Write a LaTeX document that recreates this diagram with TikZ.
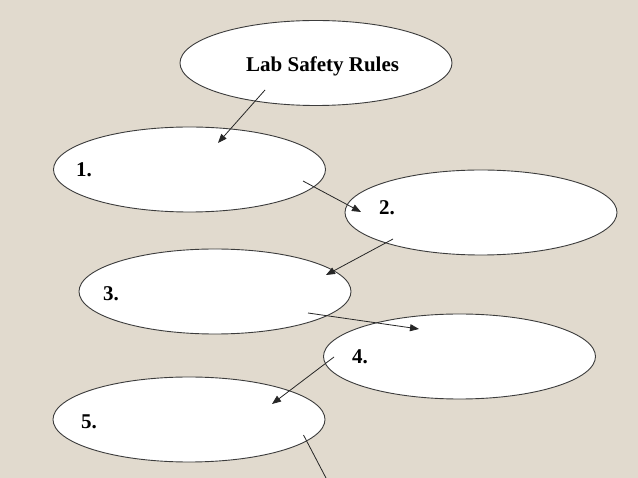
\documentclass[tikz,border=0pt]{standalone}
\usepackage{fontspec}
\setmainfont{Liberation Serif}
\usetikzlibrary{shapes.geometric,arrows.meta}
\definecolor{paper}{RGB}{225,218,206}
\definecolor{rim}{RGB}{60,60,60}
\tikzset{
  bubble/.style={ellipse, draw=rim, line width=0.9pt, fill=white, minimum width=272pt, minimum height=85pt, inner sep=0pt},
  lbl/.style={anchor=base west, inner sep=0pt, font=\fontsize{21}{25}\selectfont\bfseries},
  link/.style={draw=black!85, line width=0.8pt, -{Triangle[length=9pt,width=7pt]}},
  plainlink/.style={draw=black!85, line width=0.8pt}
}
\begin{document}
\begin{tikzpicture}[x=1pt,y=-1pt]
\fill[paper] (0,0) rectangle (638,478);
\useasboundingbox (0,0) rectangle (638,478);
% ellipses
\node[bubble] (top) at (316,63) {};
\node[bubble] (e1) at (189.5,169.5) {};
\node[bubble] (e2) at (481,212.5) {};
\node[bubble] (e3) at (215,291.5) {};
\node[bubble] (e4) at (459.5,356.5) {};
\node[bubble] (e5) at (189,419.5) {};
% labels
\node[lbl] (tt) at (246,72) {Lab Safety Rules};
\node[lbl] (t1) at (76,177) {1.};
\node[lbl] (t2) at (379,215) {2.};
\node[lbl] (t3) at (103,301) {3.};
\node[lbl] (t4) at (352,364) {4.};
\node[lbl] (t5) at (81,429) {5.};
% arrow endpoints
\coordinate (a0) at (265,90);   \coordinate (b0) at (218,143);
\coordinate (a1) at (303,181);  \coordinate (b1) at (361,212);
\coordinate (a2) at (393,239);  \coordinate (b2) at (326,275);
\coordinate (a3) at (308,313);  \coordinate (b3) at (419,329);
\coordinate (a4) at (334,357);  \coordinate (b4) at (272,404);
\coordinate (a5) at (303.5,435); \coordinate (b5) at (326,478);
\draw[link] (a0) -- (b0);
\draw[link] (a1) -- (b1);
\draw[link] (a2) -- (b2);
\draw[link] (a3) -- (b3);
\draw[link] (a4) -- (b4);
\draw[plainlink] (a5) -- (b5);
\end{tikzpicture}
\end{document}
